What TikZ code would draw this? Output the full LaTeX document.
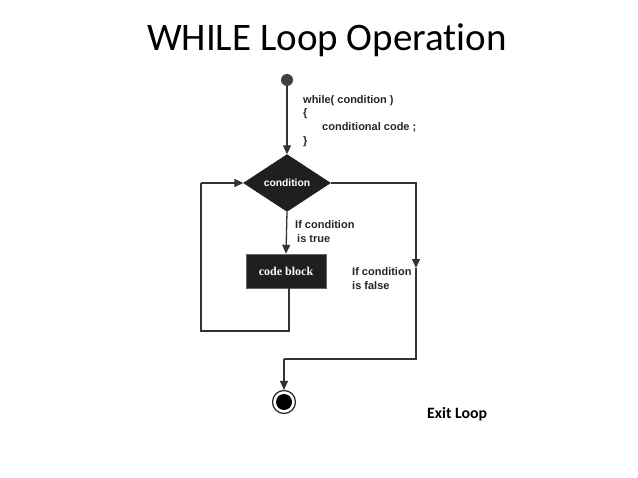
\documentclass[tikz,border=0pt]{standalone}
\usepackage{fontspec}
\setmainfont[RawFeature=-liga]{Carlito}
\newfontfamily\arialf{Liberation Sans}
\newfontfamily\serifb{Liberation Serif}
\usetikzlibrary{shapes.geometric,arrows.meta}
\tikzset{
  flow/.style={draw=black!80, line width=1.3bp},
  arr/.style={flow,-{Triangle[length=9bp,width=8bp]}},
  codetxt/.style={font=\arialf\bfseries\fontsize{11bp}{13bp}\selectfont, text=black!85, anchor=west, inner sep=0},
}
\begin{document}
\begin{tikzpicture}[x=1bp,y=-1bp]
\useasboundingbox (0,0) rectangle (638,478);
\fill[white] (0,0) rectangle (638,478);
\node[font=\fontsize{39bp}{46bp}\selectfont] (title) at (327,40) {WHILE Loop Operation};
% start
\node[circle, fill=black!75, minimum size=12bp, inner sep=0] (start) at (287,80) {};
% code text
\node[codetxt] (c1) at (303,101) {while( condition )};
\node[codetxt] (c2) at (303,114) {\{};
\node[codetxt] (c3) at (322,127) {conditional code ;};
\node[codetxt] (c4) at (303,142) {\}};
% diamond
\node[diamond, fill=black!88, draw=black!88, minimum width=87bp, minimum height=57bp, inner sep=0, aspect=1.5,
      text=white, font=\arialf\bfseries\fontsize{10.3bp}{12bp}\selectfont] (cond) at (287,183) {condition};
% code block
\node[rectangle, fill=black!88, draw=black!60, minimum width=80bp, minimum height=34bp, inner sep=0,
      text=white, font=\serifb\bfseries\fontsize{12bp}{14bp}\selectfont] (block) at (286,271) {code block};
% end
\node[circle, draw=black!85, line width=1.2bp, minimum size=23bp, inner sep=0] (end) at (284,402) {};
\fill[black] (end.center) circle (8bp);
% labels
\node[codetxt] (t1) at (295,225) {If condition};
\node[codetxt] (t2) at (297,239) {is true};
\node[codetxt] (f1) at (352,272) {If condition};
\node[codetxt] (f2) at (352,286) {is false};
\node[font=\bfseries\fontsize{15.8bp}{18bp}\selectfont, anchor=west, inner sep=0] (exit) at (427,414) {Exit Loop};
% coordinates
\coordinate (lb) at (201,331);
\coordinate (lt) at (201,183);
\coordinate (rt) at (416,183);
\coordinate (rm) at (416,268);
\coordinate (rb) at (416,359);
\coordinate (eb) at (284,359);
% connectors
\draw[arr] (start) -- (cond.north);
\draw[arr] (cond.south) -- (block.north);
\draw[flow] (block.south -| 289,0) |- (lb) -- (lt);
\draw[arr] (lt) -- (cond.west);
\draw[arr] (cond.east) -- (rt) -- (rm);
\draw[flow] (rm) -- (rb) -- (eb);
\draw[arr] (eb) -- (end.north);
\end{tikzpicture}
\end{document}
